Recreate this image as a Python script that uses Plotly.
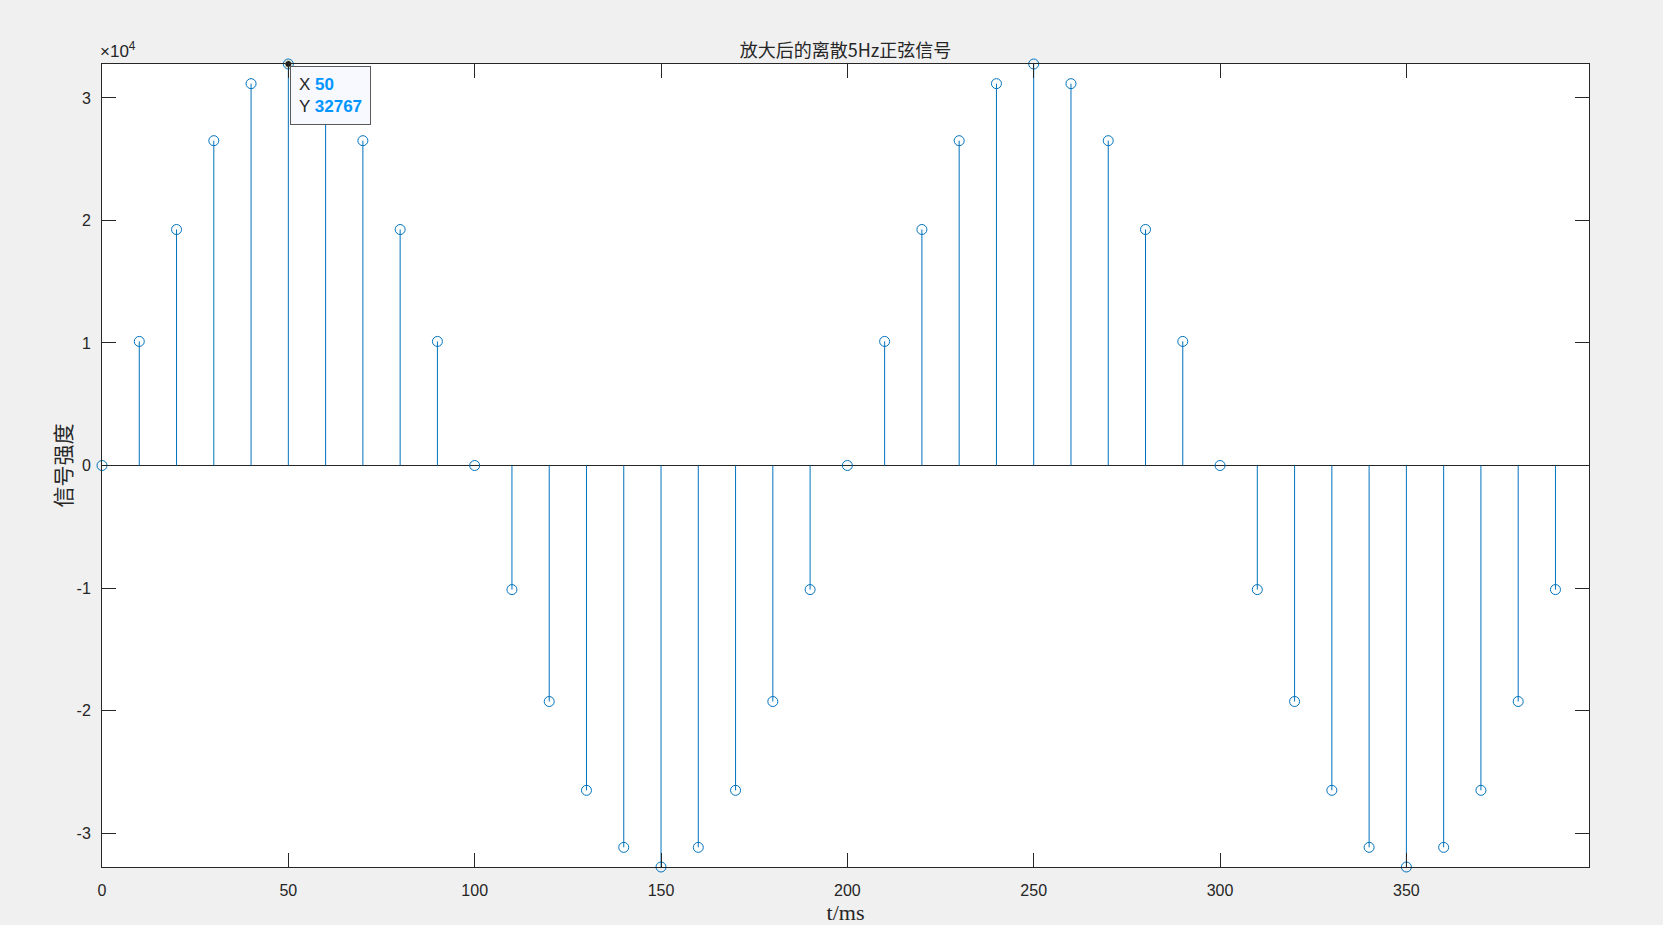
import plotly.graph_objects as go

t_ms = [0, 10, 20, 30, 40, 50, 60, 70, 80, 90,
        100, 110, 120, 130, 140, 150, 160, 170, 180, 190,
        200, 210, 220, 230, 240, 250, 260, 270, 280, 290,
        300, 310, 320, 330, 340, 350, 360, 370, 380, 390]
amp = [0, 10126, 19260, 26509, 31163, 32767, 31163, 26509, 19260, 10126,
       0, -10126, -19260, -26509, -31163, -32767, -31163, -26509, -19260, -10126,
       0, 10126, 19260, 26509, 31163, 32767, 31163, 26509, 19260, 10126,
       0, -10126, -19260, -26509, -31163, -32767, -31163, -26509, -19260, -10126]
x_ticks = [0, 50, 100, 150, 200, 250, 300, 350]
y_tickvals = [-30000, -20000, -10000, 0, 10000, 20000, 30000]
y_ticktext = ["-3", "-2", "-1", "0", "1", "2", "3"]
tip_x, tip_y = 50, 32767

blue = "#0072BD"
stem_x, stem_y = [], []
for xv, yv in zip(t_ms, amp):
    stem_x += [xv, xv, None]
    stem_y += [0, yv, None]

fig = go.Figure()
fig.add_trace(go.Scatter(x=stem_x, y=stem_y, mode="lines",
                         line=dict(color=blue, width=1), hoverinfo="skip", showlegend=False))
fig.add_trace(go.Scatter(x=t_ms, y=amp, mode="markers",
                         marker=dict(symbol="circle-open", size=10, color=blue, line=dict(width=1)),
                         showlegend=False, cliponaxis=False))
fig.add_trace(go.Scatter(x=[tip_x], y=[tip_y], mode="markers",
                         marker=dict(symbol="circle", size=7, color="#1a1a1a",
                                     line=dict(color="#e8e8c8", width=1)),
                         showlegend=False, cliponaxis=False))

fig.add_annotation(x=tip_x, y=tip_y, xref="x", yref="y",
                   text="X <b><span style='color:#0095ff'>50</span></b><br>Y <b><span style='color:#0095ff'>32767</span></b>",
                   showarrow=False, xanchor="left", yanchor="top", xshift=2, yshift=-2,
                   align="left", bgcolor="#F8F8FF", bordercolor="#5a5a5a", borderwidth=1,
                   borderpad=8, font=dict(family="Liberation Sans, Arial", size=17, color="#262626"))

fig.add_annotation(x=0, y=1, xref="paper", yref="paper", text="×10<sup>4</sup>",
                   showarrow=False, xanchor="left", yanchor="bottom", yshift=1, xshift=-4,
                   font=dict(family="Liberation Sans, Arial", size=17, color="#262626"))

# y-axis title placed as a rotated annotation
fig.add_annotation(x=0, y=0.5, xref="paper", yref="paper", text="信号强度",
                   showarrow=False, textangle=-90, xanchor="center", yanchor="middle",
                   xshift=-41, font=dict(family="Noto Sans CJK SC", size=21, color="#262626"))

axis_common = dict(showline=True, linecolor="#262626", linewidth=1, mirror="allticks",
                   ticks="inside", ticklen=14, tickcolor="#262626", tickwidth=1,
                   showgrid=False, automargin=False,
                   tickfont=dict(family="Liberation Sans, Arial", size=16, color="#262626"))

fig.update_layout(
    width=1663, height=925,
    paper_bgcolor="#F0F0F0", plot_bgcolor="#FFFFFF",
    margin=dict(l=102, r=74, t=64, b=58),
    title=dict(text="放大后的离散5Hz正弦信号", x=0.5, xref="paper", y=1, yref="paper",
               xanchor="center", yanchor="bottom", pad=dict(b=7),
               font=dict(family="Noto Sans CJK SC", size=18, color="#262626")),
    xaxis=dict(range=[0, 399], tickvals=x_ticks, zeroline=False, ticklabelstandoff=9,
               title=dict(text="t/ms",
                          font=dict(family="Liberation Serif, DejaVu Serif", size=22, color="#262626")),
               **axis_common),
    yaxis=dict(range=[-32767, 32767], tickvals=y_tickvals, ticktext=y_ticktext,
               zeroline=True, zerolinecolor="#262626", zerolinewidth=1, ticklabelstandoff=7,
               **axis_common),
    hovermode="closest",
)

fig.write_html("out.html", config={"displayModeBar": False},
               post_script="document.body.style.margin='0';document.body.style.background='#F0F0F0';")
